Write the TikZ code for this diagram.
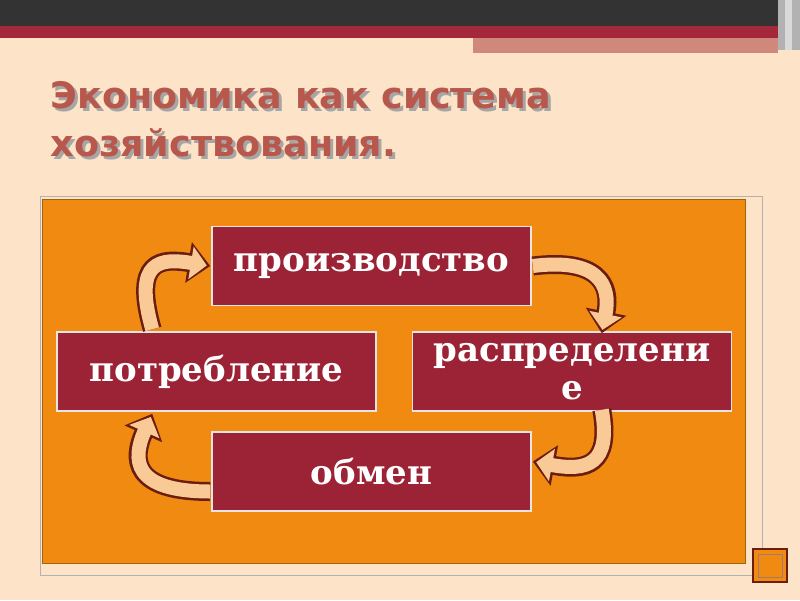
\documentclass[tikz,border=0pt]{standalone}
\usepackage{fontspec}
\setmainfont{DejaVu Serif}
\newfontfamily\titlefont{DejaVu Sans}
\usetikzlibrary{arrows.meta,calc}
\definecolor{bg}{HTML}{FDE3C8}
\definecolor{darkbar}{HTML}{333333}
\definecolor{redband}{HTML}{A3283A}
\definecolor{pinkband}{HTML}{D0877C}
\definecolor{orangebox}{HTML}{F08A10}
\definecolor{boxred}{HTML}{9B2335}
\definecolor{peach}{HTML}{F9CA95}
\definecolor{arrowedge}{HTML}{6B1E10}
\definecolor{titlecol}{HTML}{B8584C}
\tikzset{
 stage/.style={draw=white!80!gray, line width=1.5pt, fill=boxred, text=white, font=\bfseries\fontsize{34}{38}\selectfont, minimum width=319pt, minimum height=79pt, align=center, inner sep=0pt},
 arrowout/.style={draw=arrowedge, line width=19pt, -{Triangle[width=40pt,length=22pt]}},
 arrowin/.style={draw=peach, line width=14pt, -{Triangle[width=32pt,length=16pt]}, shorten >=3.5pt},
}
\begin{document}
\begin{tikzpicture}[x=1pt,y=-1pt]
\useasboundingbox (0,0) rectangle (800,600);
\fill[bg] (0,0) rectangle (800,600);
\fill[darkbar] (0,0) rectangle (778,26);
\fill[redband] (0,26) rectangle (778,38);
\fill[pinkband] (473,38) rectangle (778,53);
\fill[gray!60] (778,0) rectangle (800,50);
\fill[gray!30] (785,0) rectangle (792,50);
\node[anchor=west, text=gray!70, font=\titlefont\bfseries\fontsize{36.5}{48}\selectfont, align=left] at (50,122) {Экономика как система\\хозяйствования.};
\node[anchor=west, text=titlecol, font=\titlefont\bfseries\fontsize{36.5}{48}\selectfont, align=left] at (47,119) {Экономика как система\\хозяйствования.};
\draw[gray!60, line width=0.5pt] (40,196) rectangle (762,575);
\fill[orangebox, draw=orangebox!70!black, line width=0.6pt] (42,199) rectangle (745,563);
\fill[orangebox, draw=arrowedge, line width=1.5pt] (753,549) rectangle (787,582);
\draw[arrowedge!60, line width=1pt] (758,554) rectangle (782,577);
\coordinate (a1s) at (152,332);
\node[stage] (prod) at (371.5,266) {производство};
\node[stage] (potr) at (216.5,371.5) {потребление};
\node[stage] (rasp) at (572,371.5) {распределени\\е};
\node[stage] (obm) at (371.5,471.5) {обмен};
\begin{scope}[on background layer/.try]
\end{scope}
\coordinate (a1s) at ($(potr.north west)+(96,-2)$);
\coordinate (a2e) at ($(rasp.north west)+(190,2)$);
\coordinate (a3s) at ($(rasp.south west)+(190,-2)$);
\coordinate (a4e) at ($(potr.south west)+(96,2)$);
\foreach \s in {arrowout,arrowin}{
 \draw[\s] (a1s) .. controls ($(a1s)+(-20,-70)$) and ($(prod.west)+(-50,-8)$) .. ($(prod.west)+(-1,0)$);
 \draw[\s] ($(prod.east)+(1,0)$) .. controls ($(prod.east)+(65,-8)$) and ($(a2e)+(10,-50)$) .. (a2e);
 \draw[\s] (a3s) .. controls ($(a3s)+(10,55)$) and ($(obm.east)+(55,0)$) .. ($(obm.east)+(1,-10)$);
 \draw[\s] ($(obm.west)+(-1,20)$) .. controls ($(obm.west)+(-80,20)$) and ($(a4e)+(-20,45)$) .. (a4e);
}
\end{tikzpicture}
\end{document}
